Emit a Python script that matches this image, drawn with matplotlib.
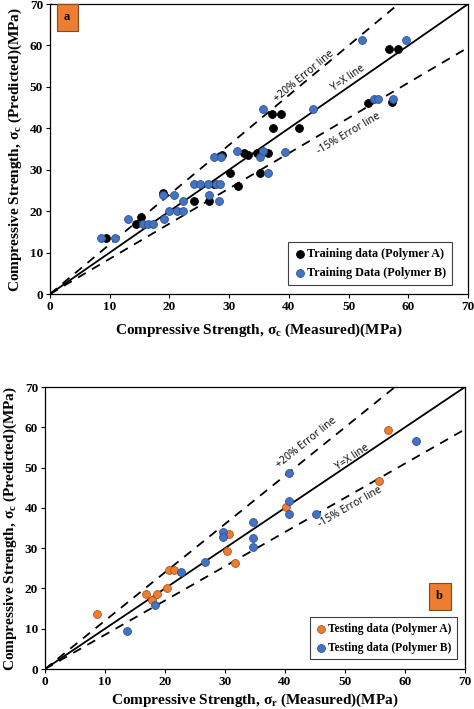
import numpy as np
import matplotlib.pyplot as plt

# panel a: training data
train_a_x = [9.4, 14.4, 15.3, 18.9, 24.1, 26.6, 27.4, 30.2, 31.4, 28.8, 32.4, 33.1, 34.6,
             36.5, 35.2, 37.1, 38.7, 37.4, 41.7, 56.8, 58.2, 53.2, 57.3]
train_a_y = [13.6, 17.0, 18.5, 24.3, 22.5, 22.5, 26.5, 29.3, 26.1, 33.5, 34.0, 33.5, 34.0,
             34.0, 29.3, 43.4, 43.4, 40.1, 40.1, 59.1, 59.1, 46.2, 46.3]
train_b_x = [8.5, 10.8, 13.1, 15.6, 16.4, 17.2, 19.1, 18.9, 20.7, 20.0, 21.3, 22.3, 22.3,
             24.1, 25.1, 26.5, 27.8, 28.5, 26.6, 28.3, 27.4, 28.6, 31.3, 35.2, 35.7, 36.5,
             39.4, 35.7, 44.1, 52.3, 59.6, 54.3, 55.0, 57.5]
train_b_y = [13.6, 13.6, 18.2, 17.0, 17.0, 17.0, 18.2, 23.8, 24.0, 20.0, 20.0, 20.0, 22.4,
             26.5, 26.5, 26.5, 26.5, 26.5, 23.9, 22.4, 33.0, 33.0, 34.5, 33.0, 34.5, 29.3,
             34.4, 44.7, 44.7, 61.3, 61.3, 47.1, 47.1, 47.1]

# panel b: testing data
test_a_x = [8.6, 16.8, 17.8, 18.6, 20.3, 20.6, 21.5, 30.4, 31.7, 30.7, 40.2, 55.7, 57.2]
test_a_y = [13.6, 18.7, 17.1, 18.7, 20.2, 24.5, 24.5, 29.4, 26.4, 33.5, 40.3, 46.6, 59.3]
test_b_x = [13.6, 18.3, 22.7, 26.7, 29.6, 29.6, 34.7, 34.7, 34.7, 40.6, 40.6, 40.6, 45.1, 61.8]
test_b_y = [9.4, 15.9, 24.0, 26.6, 33.9, 32.7, 36.4, 32.6, 30.2, 48.6, 41.7, 38.4, 38.6, 56.5]

ticks = [0, 10, 20, 30, 40, 50, 60, 70]

BLUE = '#4472C4'
BLUE_EDGE = '#2F528F'
ORANGE = '#ED7D31'
ORANGE_EDGE = '#AE5A21'
SERIF = 'Liberation Serif'
SANS = 'Open Sans'

fig = plt.figure(figsize=(4.74, 7.09), dpi=100)
ax1 = fig.add_axes([0.1055, 0.5853, 0.882, 0.409])
ax2 = fig.add_axes([0.0949, 0.0564, 0.886, 0.3977])


def base(ax, xlabel, xpad):
    xs = np.array([0, 70])
    ax.plot(xs, xs, color='black', lw=1.3)
    ax.plot(xs, 1.2 * xs, color='black', lw=1.3, dashes=(5, 4))
    ax.plot(xs, 0.85 * xs, color='black', lw=1.3, dashes=(5, 4))
    ax.set_xlim(0, 70)
    ax.set_ylim(0, 70)
    ax.set_xticks(ticks)
    ax.set_yticks(ticks)
    ax.tick_params(direction='out', length=3, width=0.8, labelsize=9.5, pad=2)
    for lab in ax.get_xticklabels() + ax.get_yticklabels():
        lab.set_fontfamily(SERIF)
        lab.set_fontweight('bold')
    for sp in ax.spines.values():
        sp.set_linewidth(0.9)
    ax.set_xlabel(xlabel, fontfamily=SERIF, fontweight='bold', fontsize=11, labelpad=xpad)
    ax.set_ylabel(r'Compressive Strength, $\mathregular{\sigma_c}$ (Predicted)(MPa)',
                  fontfamily=SERIF, fontweight='bold', fontsize=11, labelpad=4)


def line_label(ax, text, x, y, slope):
    fig.canvas.draw()
    p1 = ax.transData.transform((0, 0))
    p2 = ax.transData.transform((10, 10 * slope))
    ang = np.degrees(np.arctan2(p2[1] - p1[1], p2[0] - p1[0]))
    ax.text(x, y, text, rotation=ang, rotation_mode='anchor', ha='center', va='center',
            fontfamily=SANS, fontsize=7.5, color='black')


def tag(ax, letter, x, y):
    ax.text(x, y, letter, transform=ax.transAxes, ha='center', va='center',
            fontfamily=SERIF, fontweight='bold', fontsize=9,
            bbox=dict(boxstyle='square,pad=0.6', fc=ORANGE, ec='#7F4A1E', lw=0.8))


def legend(ax, anchor, size):
    leg = ax.legend(loc='lower right', bbox_to_anchor=anchor, handletextpad=0.1,
                    handlelength=1.0, borderpad=0.5, labelspacing=0.6, fancybox=False,
                    borderaxespad=0, edgecolor='#404040', framealpha=1,
                    prop={'family': SERIF, 'weight': 'bold', 'size': size})
    leg.get_frame().set_linewidth(0.8)


base(ax1, r'Compressive Strength, $\mathregular{\sigma_c}$ (Measured)(MPa)', 6)
ax1.scatter(train_a_x, train_a_y, s=32, color='black', edgecolor='black', lw=0.6,
            zorder=3, label='Training data (Polymer A)')
ax1.scatter(train_b_x, train_b_y, s=32, color=BLUE, edgecolor=BLUE_EDGE, lw=0.6,
            zorder=3, label='Training Data (Polymer B)')
line_label(ax1, '+20% Error line', 42.6, 52.6, 1.2)
line_label(ax1, 'Y=X line', 50.0, 52.0, 1.0)
line_label(ax1, '-15% Error line', 50.0, 38.8, 0.85)
tag(ax1, 'a', 0.041, 0.955)
legend(ax1, (0.962, 0.031), 8.7)

base(ax2, r'Compressive Strength, $\mathregular{\sigma_r}$ (Measured)(MPa)', 3)
ax2.scatter(test_a_x, test_a_y, s=32, color=ORANGE, edgecolor=ORANGE_EDGE, lw=0.6,
            zorder=3, label='Testing data (Polymer A)')
ax2.scatter(test_b_x, test_b_y, s=32, color=BLUE, edgecolor=BLUE_EDGE, lw=0.6,
            zorder=3, label='Testing data (Polymer B)')
line_label(ax2, '+20% Error line', 43.6, 56.2, 1.2)
line_label(ax2, 'Y=X line', 51.2, 52.6, 1.0)
line_label(ax2, '-15% Error line', 50.8, 40.3, 0.85)
tag(ax2, 'b', 0.94, 0.258)
legend(ax2, (0.982, 0.034), 8.4)

fig.savefig('out.png', dpi=100)
